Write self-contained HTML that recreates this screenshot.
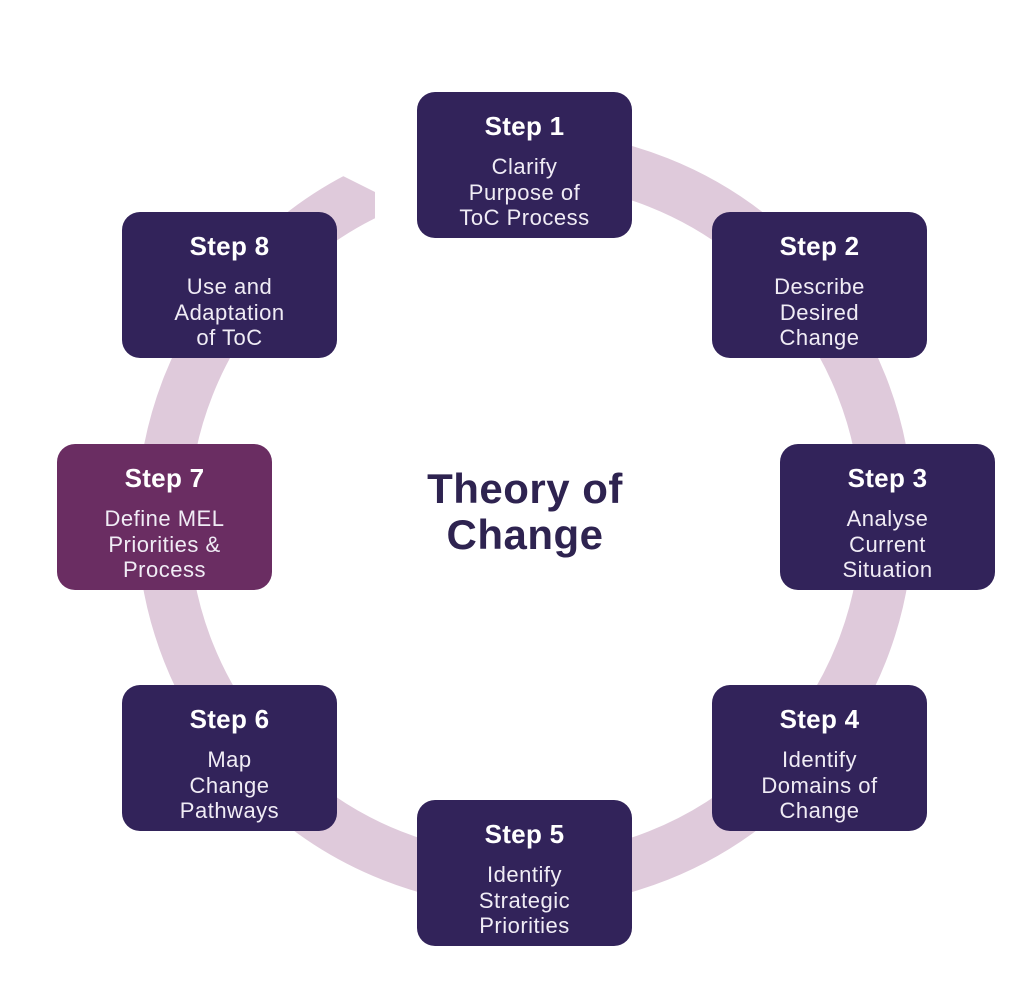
<!DOCTYPE html>
<html><head><meta charset="utf-8"><style>
html,body{margin:0;padding:0;background:#fff;}
body{width:1024px;height:1008px;position:relative;overflow:hidden;font-family:"Liberation Sans",sans-serif;}
svg{position:absolute;left:0;top:0;}
.b{position:absolute;width:215px;height:146px;border-radius:18px;background:#32235a;color:#fff;text-align:center;}
.b h3{margin:0;position:absolute;top:19px;left:0;right:0;font-size:26px;font-weight:bold;line-height:30px;letter-spacing:0.3px;}
.b p{margin:0;position:absolute;top:62px;left:0;right:0;font-size:22px;line-height:25.5px;color:#f0ecf5;letter-spacing:0.5px;}
.t{position:absolute;left:275px;width:500px;text-align:center;color:#2e2350;font-weight:bold;font-size:42px;line-height:46px;top:466px;letter-spacing:0.5px;}
</style></head><body>
<svg width="1024" height="1008">
<circle cx="525" cy="519" r="362" fill="none" stroke="#dfcadb" stroke-width="52"/>
<polygon points="343,100 343,176 375,192 375,245 425,245 425,100" fill="#fff"/>
</svg>
<div class="b" style="left:417px;top:92px"><h3>Step 1</h3><p>Clarify<br>Purpose of<br>ToC Process</p></div>
<div class="b" style="left:712px;top:212px"><h3>Step 2</h3><p>Describe<br>Desired<br>Change</p></div>
<div class="b" style="left:780px;top:444px"><h3>Step 3</h3><p>Analyse<br>Current<br>Situation</p></div>
<div class="b" style="left:712px;top:685px"><h3>Step 4</h3><p>Identify<br>Domains of<br>Change</p></div>
<div class="b" style="left:417px;top:800px"><h3>Step 5</h3><p>Identify<br>Strategic<br>Priorities</p></div>
<div class="b" style="left:122px;top:685px"><h3>Step 6</h3><p>Map<br>Change<br>Pathways</p></div>
<div class="b" style="left:57px;top:444px;background:#6a2d62"><h3>Step 7</h3><p>Define MEL<br>Priorities &amp;<br>Process</p></div>
<div class="b" style="left:122px;top:212px"><h3>Step 8</h3><p>Use and<br>Adaptation<br>of ToC</p></div>
<div class="t">Theory of<br>Change</div>
</body></html>
